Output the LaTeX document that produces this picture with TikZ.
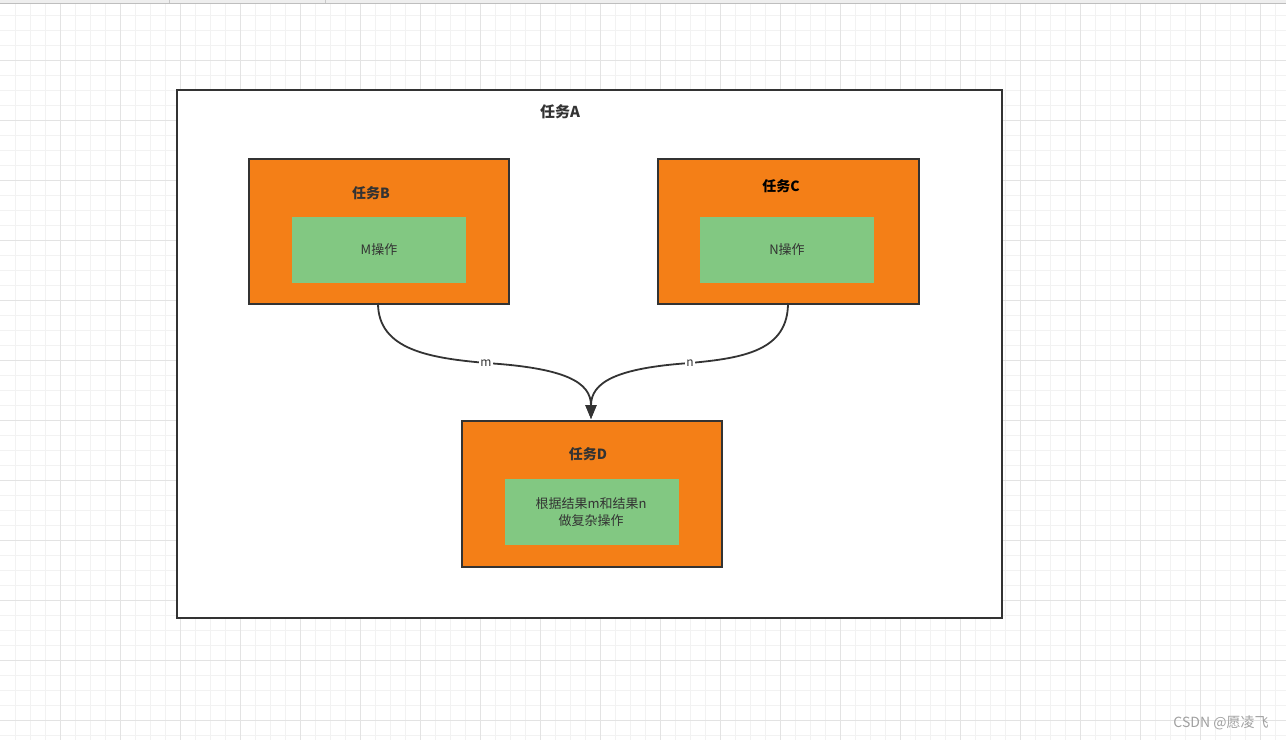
\documentclass[tikz,border=0pt]{standalone}
\usepackage{fontspec}
\setmainfont{Noto Sans CJK SC}
\usetikzlibrary{arrows.meta}
\definecolor{orangebox}{HTML}{F47F17}
\definecolor{greenbox}{HTML}{82C882}
\definecolor{edge}{HTML}{333333}
\definecolor{gridminor}{HTML}{F2F2F2}
\definecolor{gridmajor}{HTML}{E3E3E3}
\definecolor{topbar}{HTML}{EEEEEE}
\definecolor{topline}{HTML}{BEBEBE}
\definecolor{topsep}{HTML}{C8C8C8}
\definecolor{wmgray}{HTML}{A0A0A0}
\tikzset{
  taskbox/.style={draw=edge, line width=2pt, fill=orangebox},
  opbox/.style={fill=greenbox},
  tasktitle/.style={font=\fontsize{14}{16}\selectfont\bfseries, text=edge, inner sep=0pt},
  optext/.style={font=\fontsize{13}{17}\selectfont, text=edge, inner sep=0pt, align=center},
  flow/.style={draw=edge, line width=1.8pt},
  elabel/.style={font=\fontsize{12}{14}\selectfont, text=edge, fill=white, inner sep=1pt}
}
\begin{document}
\begin{tikzpicture}[x=1pt,y=-1pt]
\useasboundingbox (0,0) rectangle (1286,740);
\fill[white] (0,0) rectangle (1286,740);
% grid
\foreach \i in {15,30,...,1285} {\draw[gridminor, line width=0.8pt] (\i,4) -- (\i,740);}
\foreach \j in {15,30,...,735} {\draw[gridminor, line width=0.8pt] (0,\j) -- (1286,\j);}
\foreach \i in {60,120,...,1285} {\draw[gridmajor, line width=0.8pt] (\i,4) -- (\i,740);}
\foreach \j in {60,120,...,735} {\draw[gridmajor, line width=0.8pt] (0,\j) -- (1286,\j);}
% top bar
\fill[topbar] (0,0) rectangle (1286,3);
\draw[topline, line width=1pt] (0,3.5) -- (1286,3.5);
\draw[topsep, line width=0.8pt] (169,0) -- (169,3) (325,0) -- (325,3);
% outer box
\node[draw=edge, line width=2pt, fill=white, minimum width=825pt, minimum height=528pt, inner sep=0pt, anchor=north west] (A) at (176,89) {};
\node[font=\fontsize{15}{17}\selectfont\bfseries, text=edge, inner sep=0pt] (Atitle) at (560,112) {任务A};
% B
\node[taskbox, minimum width=260pt, minimum height=145pt, inner sep=0pt, anchor=north west] (B) at (248,158) {};
\node[tasktitle] (Btitle) at (371,193) {任务B};
\node[opbox, minimum width=174pt, minimum height=66pt, inner sep=0pt, anchor=north west] (Bop) at (292,217) {};
\node[optext] (Btext) at (379,250) {M操作};
% C
\node[taskbox, minimum width=261pt, minimum height=145pt, inner sep=0pt, anchor=north west] (C) at (657,158) {};
\node[tasktitle, text=black] (Ctitle) at (781,186) {任务C};
\node[opbox, minimum width=174pt, minimum height=66pt, inner sep=0pt, anchor=north west] (Cop) at (700,217) {};
\node[optext] (Ctext) at (787,250) {N操作};
% D
\node[taskbox, minimum width=260pt, minimum height=146pt, inner sep=0pt, anchor=north west] (D) at (461,420) {};
\node[tasktitle] (Dtitle) at (588,454) {任务D};
\node[opbox, minimum width=174pt, minimum height=66pt, inner sep=0pt, anchor=north west] (Dop) at (505,479) {};
\node[optext] (Dtext) at (591,512) {根据结果m和结果n\\做复杂操作};
% connectors
\coordinate (Bout) at (378,303);
\coordinate (Cout) at (788,303);
\coordinate (Din) at (591,419);
\coordinate (mid1) at (486,363);
\coordinate (mid2) at (690,363);
\draw[flow, -{Triangle[length=14pt,width=11pt]}] (Bout) .. controls (378,350) and (430,358) .. (mid1) .. controls (565,368) and (591,382) .. (Din);
\draw[flow, -{Triangle[length=14pt,width=11pt]}] (Cout) .. controls (788,350) and (745,358) .. (mid2) .. controls (617,368) and (591,382) .. (Din);
\node[elabel] (mlab) at (mid1) {m};
\node[elabel] (nlab) at (mid2) {n};
% watermark
\node[font=\fontsize{14}{16}\selectfont, text=wmgray, inner sep=0pt] (wm) at (1221,723) {CSDN @愿凌飞};
\end{tikzpicture}
\end{document}
